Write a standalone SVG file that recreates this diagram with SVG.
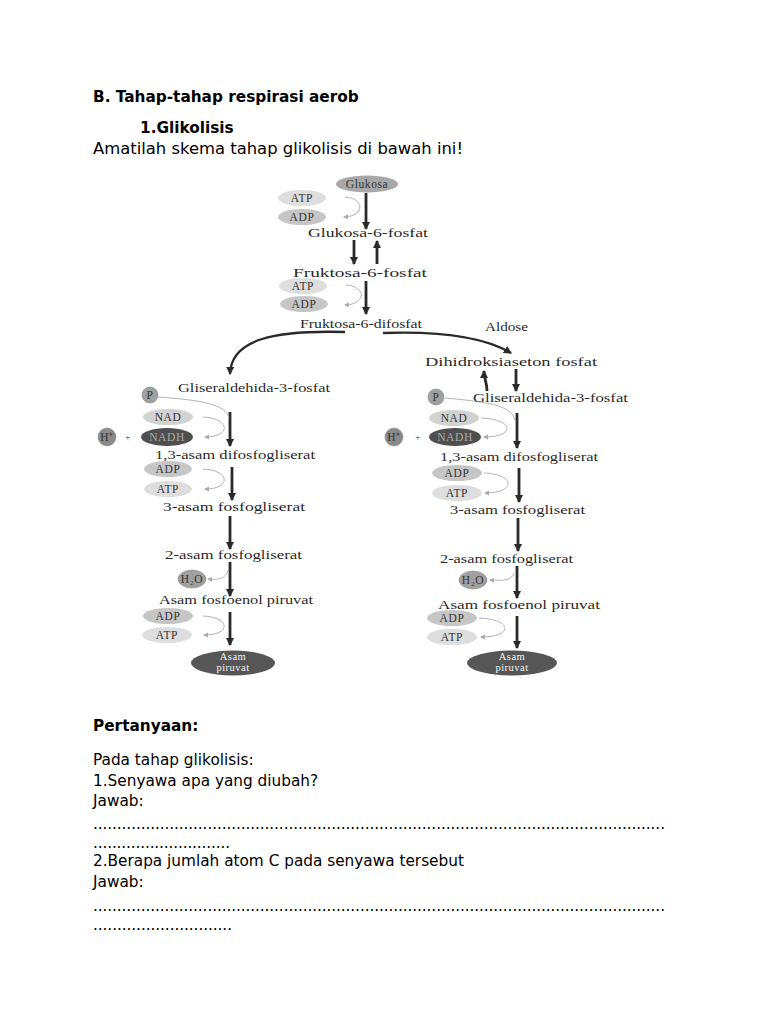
<svg xmlns="http://www.w3.org/2000/svg" width="768" height="1024" viewBox="0 0 768 1024">
<style>
.h{font-family:"DejaVu Sans",sans-serif;font-weight:bold;font-size:15.3px;fill:#000}
.t{font-family:"DejaVu Sans",sans-serif;font-size:15.3px;fill:#000}
.lb{font-family:"Liberation Serif",serif;font-size:12.5px;fill:#2a2a2a}
.in{font-family:"Liberation Serif",serif;font-size:11.5px;letter-spacing:0.6px;fill:#333;text-anchor:middle}
.inw{font-family:"Liberation Serif",serif;font-size:10.5px;letter-spacing:0.5px;fill:#f2f2f2;text-anchor:middle}
.thick{stroke:#2a2a2a;stroke-width:2.8;fill:none;marker-end:url(#big)}
.thin{stroke:#aaa;stroke-width:0.9;fill:none;marker-end:url(#small)}
.plain{stroke:#aaa;stroke-width:0.9;fill:none}
.curve{stroke:#2a2a2a;stroke-width:2.3;fill:none;marker-end:url(#big)}
.atp{fill:#dedede}
.adp{fill:#c6c6c6}
.nad{fill:#d2d2d2}
.nadh{fill:#4f4f4f}
.p{fill:#a0a0a0;stroke:#888;stroke-width:0.6}
.dark{fill:#565656}
</style>
<defs>
<marker id="big" markerUnits="userSpaceOnUse" markerWidth="9" markerHeight="9" refX="7" refY="4" orient="auto">
<path d="M0,0 L8,4 L0,8 z" fill="#2a2a2a"/>
</marker>
<marker id="small" markerUnits="userSpaceOnUse" markerWidth="6" markerHeight="6" refX="4" refY="2.5" orient="auto">
<path d="M0,0 L5,2.5 L0,5 z" fill="#aaa"/>
</marker>
</defs>
<rect width="768" height="1024" fill="#fff"/>

<g id="header">
<text class="h" x="93" y="102">B. Tahap-tahap respirasi aerob</text>
<text class="h" x="140" y="133">1.Glikolisis</text>
<text class="t" x="93" y="154" textLength="370" lengthAdjust="spacingAndGlyphs">Amatilah skema tahap glikolisis di bawah ini!</text>
</g>

<g id="connectors">
<path class="thick" d="M366,193 L366,229"/>
<path class="thick" d="M354,240 L354,264"/>
<path class="thick" d="M377,264 L377,241"/>
<path class="thick" d="M366,281 L366,314"/>
<path class="thin" d="M345,197 C364,198 366,216 344,217"/>
<path class="thin" d="M346,285 C366,286 367,304 345,305"/>
<path class="curve" d="M345,332 C272,330 231,340 230,374"/>
<path class="curve" d="M383,333 C440,331 484,337 511,353"/>
<path class="thick" d="M516,369 L516,391"/>
<path class="thick" d="M487,391 C487,382 484,379 484,371"/>

<path class="thick" d="M230,412 L230,446"/>
<path class="plain" d="M158,397 C200,400 226,404 229,418"/>
<path class="thin" d="M203,417 C230,418 232,437 205,437"/>
<path class="thick" d="M232,467 L232,500"/>
<path class="thin" d="M203,469 C230,470 232,489 205,489"/>
<path class="thick" d="M230,516 L230,549"/>
<path class="thick" d="M230,562 L230,596"/>
<path class="thin" d="M228,570 C226,579 218,580 208,579"/>
<path class="thick" d="M230,612 L230,645"/>
<path class="thin" d="M203,616 C230,617 232,635 204,635"/>

<path class="thick" d="M517,413 L517,448"/>
<path class="plain" d="M445,398 C490,402 512,406 515,420"/>
<path class="thin" d="M481,418 C514,419 516,437 484,437"/>
<path class="thick" d="M519,468 L519,502"/>
<path class="thin" d="M484,473 C515,474 517,493 485,493"/>
<path class="thick" d="M518,518 L518,551"/>
<path class="thick" d="M517,566 L517,598"/>
<path class="thin" d="M514,573 C512,580 504,581 490,580"/>
<path class="thick" d="M517,616 L517,648"/>
<path class="thin" d="M479,618 C512,619 514,637 481,637"/>
</g>

<g id="glukosa"><ellipse cx="367" cy="184" rx="31" ry="8.5" fill="#a8a8a8"/><text class="in" x="367" y="188">Glukosa</text></g>
<g id="atp1"><ellipse class="atp" cx="302" cy="198" rx="24" ry="8"/><text class="in" x="302" y="202">ATP</text></g>
<g id="adp1"><ellipse class="adp" cx="302" cy="217" rx="24" ry="8"/><text class="in" x="302" y="221">ADP</text></g>
<g id="g6p"><text class="lb" x="308" y="237" textLength="120" lengthAdjust="spacingAndGlyphs">Glukosa-6-fosfat</text></g>
<g id="f6p"><text class="lb" x="293" y="277" textLength="134" lengthAdjust="spacingAndGlyphs">Fruktosa-6-fosfat</text></g>
<g id="atp2"><ellipse class="atp" cx="303" cy="286" rx="24" ry="8"/><text class="in" x="303" y="290">ATP</text></g>
<g id="adp2"><ellipse class="adp" cx="304" cy="304" rx="24" ry="8"/><text class="in" x="304" y="308">ADP</text></g>
<g id="f16dp"><text class="lb" x="300" y="328" textLength="122" lengthAdjust="spacingAndGlyphs">Fruktosa-6-difosfat</text></g>
<g id="aldose"><text class="lb" x="485" y="331" textLength="43" lengthAdjust="spacingAndGlyphs">Aldose</text></g>
<g id="dhap"><text class="lb" x="425" y="366" textLength="172" lengthAdjust="spacingAndGlyphs">Dihidroksiaseton fosfat</text></g>

<g id="left-branch">
<text class="lb" x="178" y="392" textLength="152" lengthAdjust="spacingAndGlyphs">Gliseraldehida-3-fosfat</text>
<circle class="p" cx="150" cy="395" r="8"/><text class="in" x="150" y="399">P</text>
<ellipse class="nad" cx="168" cy="417" rx="25" ry="8"/><text class="in" x="168" y="421">NAD</text>
<circle class="p" cx="107" cy="437" r="9" style="fill:#8a8a8a"/><text class="in" x="107" y="441">H⁺</text>
<text class="in" x="128" y="440" style="font-size:9px">+</text>
<ellipse class="nadh" cx="167" cy="437" rx="26" ry="9"/><text class="in" x="167" y="441" style="fill:#aaa">NADH</text>
<text class="lb" x="155" y="459" textLength="160" lengthAdjust="spacingAndGlyphs">1,3-asam difosfogliserat</text>
<ellipse class="adp" cx="168" cy="469" rx="24" ry="8"/><text class="in" x="168" y="473">ADP</text>
<ellipse class="atp" cx="168" cy="489" rx="24" ry="8"/><text class="in" x="168" y="493">ATP</text>
<text class="lb" x="163" y="511" textLength="142" lengthAdjust="spacingAndGlyphs">3-asam fosfogliserat</text>
<text class="lb" x="165" y="559" textLength="137" lengthAdjust="spacingAndGlyphs">2-asam fosfogliserat</text>
<ellipse class="p" cx="192" cy="579" rx="14" ry="9"/><text class="in" x="192" y="583">H₂O</text>
<text class="lb" x="159" y="604" textLength="154" lengthAdjust="spacingAndGlyphs">Asam fosfoenol piruvat</text>
<ellipse class="adp" cx="168" cy="616" rx="25" ry="8"/><text class="in" x="168" y="620">ADP</text>
<ellipse class="atp" cx="167" cy="635" rx="25" ry="8"/><text class="in" x="167" y="639">ATP</text>
<ellipse class="dark" cx="233" cy="663" rx="42" ry="12.5"/>
<text class="inw" x="233" y="660">Asam</text><text class="inw" x="233" y="671">piruvat</text>
</g>

<g id="right-branch">
<text class="lb" x="473" y="402" textLength="155" lengthAdjust="spacingAndGlyphs">Gliseraldehida-3-fosfat</text>
<circle class="p" cx="436" cy="397" r="8"/><text class="in" x="436" y="401">P</text>
<ellipse class="nad" cx="454" cy="418" rx="25" ry="8"/><text class="in" x="454" y="422">NAD</text>
<circle class="p" cx="394" cy="437" r="9" style="fill:#8a8a8a"/><text class="in" x="394" y="441">H⁺</text>
<text class="in" x="418" y="440" style="font-size:9px">+</text>
<ellipse class="nadh" cx="455" cy="437" rx="26" ry="9"/><text class="in" x="455" y="441" style="fill:#aaa">NADH</text>
<text class="lb" x="440" y="461" textLength="158" lengthAdjust="spacingAndGlyphs">1,3-asam difosfogliserat</text>
<ellipse class="adp" cx="457" cy="473" rx="25" ry="8"/><text class="in" x="457" y="477">ADP</text>
<ellipse class="atp" cx="457" cy="493" rx="25" ry="8"/><text class="in" x="457" y="497">ATP</text>
<text class="lb" x="450" y="514" textLength="135" lengthAdjust="spacingAndGlyphs">3-asam fosfogliserat</text>
<text class="lb" x="440" y="563" textLength="133" lengthAdjust="spacingAndGlyphs">2-asam fosfogliserat</text>
<ellipse class="p" cx="473" cy="580" rx="14" ry="9"/><text class="in" x="473" y="584">H₂O</text>
<text class="lb" x="438" y="609" textLength="162" lengthAdjust="spacingAndGlyphs">Asam fosfoenol piruvat</text>
<ellipse class="adp" cx="452" cy="618" rx="25" ry="8"/><text class="in" x="452" y="622">ADP</text>
<ellipse class="atp" cx="452" cy="637" rx="25" ry="8"/><text class="in" x="452" y="641">ATP</text>
<ellipse class="dark" cx="512" cy="663" rx="45" ry="12.5"/>
<text class="inw" x="512" y="660">Asam</text><text class="inw" x="512" y="671">piruvat</text>
</g>

<g id="questions">
<text class="h" x="93" y="731">Pertanyaan:</text>
<text class="t" x="93" y="765">Pada tahap glikolisis:</text>
<text class="t" x="93" y="786">1.Senyawa apa yang diubah?</text>
<text class="t" x="93" y="806">Jawab:</text>
<text class="t" x="93" y="829" textLength="572" lengthAdjust="spacing">........................................................................................................................</text>
<text class="t" x="93" y="848" textLength="137" lengthAdjust="spacing">.............................</text>
<text class="t" x="93" y="866">2.Berapa jumlah atom C pada senyawa tersebut</text>
<text class="t" x="93" y="887">Jawab:</text>
<text class="t" x="93" y="911" textLength="572" lengthAdjust="spacing">........................................................................................................................</text>
<text class="t" x="93" y="930" textLength="139" lengthAdjust="spacing">.............................</text>
</g>
</svg>
